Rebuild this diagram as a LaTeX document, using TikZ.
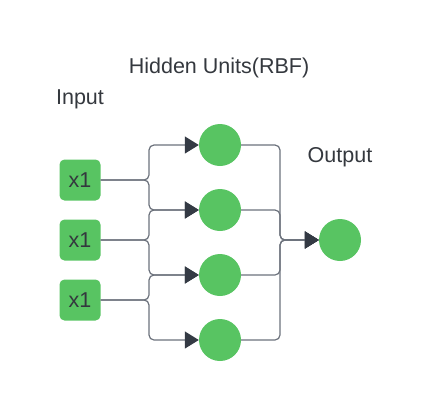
\documentclass[tikz,border=0pt]{standalone}
\usepackage{fontspec}
\setmainfont{Liberation Sans}
\usepackage{tikz}
\usepackage{xcolor}
\usetikzlibrary{arrows.meta}
\definecolor{unitgreen}{RGB}{88,196,98}
\definecolor{wire}{RGB}{108,114,124}
\definecolor{tip}{RGB}{52,58,68}
\definecolor{ink}{RGB}{52,56,62}

\begin{document}
\begin{tikzpicture}[x=1pt,y=-1pt,
    every node/.style={font=\fontsize{21.5}{25}\selectfont,text=ink},
    inbox/.style={fill=unitgreen,rounded corners=5pt,minimum width=41pt,minimum height=41pt,inner sep=0pt},
    unit/.style={circle,fill=unitgreen,minimum size=42pt,inner sep=0pt},
    wire/.style={draw=wire,line width=1.2pt,rounded corners=5pt},
    arrow/.style={wire,-{Triangle[length=14pt,width=17pt,color=tip]}}]
                % Canvas
                \useasboundingbox (0,0) rectangle (430,400);

                % Titles
                \node (title) at (219,68) {Hidden Units(RBF)};
                \node (inlabel) at (80,99) {Input};
                \node (outlabel) at (340,157) {Output};

                % Inputs
                \node[inbox] (in1) at (80,180) {x1};
                \node[inbox] (in2) at (80,240) {x1};
                \node[inbox] (in3) at (80,300) {x1};

                % Hidden units
                \node[unit] (h1) at (220,145) {};
                \node[unit] (h2) at (220,210) {};
                \node[unit] (h3) at (220,275) {};
                \node[unit] (h4) at (220,340) {};

                % Output unit
                \node[unit] (out) at (340,240) {};

                % Junctions
                \coordinate (j1) at (149,180);
                \coordinate (j2) at (149,240);
                \coordinate (j3) at (149,300);
                \coordinate (k) at (280,240);

                % Input to hidden
                \draw[arrow] (in1.east) -- (j1) |- (h1.west);
                \draw[arrow] (in1.east) -- (j1) |- (h2.west);
                \draw[arrow] (in2.east) -- (j2) |- (h2.west);
                \draw[arrow] (in2.east) -- (j2) |- (h3.west);
                \draw[arrow] (in3.east) -- (j3) |- (h3.west);
                \draw[arrow] (in3.east) -- (j3) |- (h4.west);

                % Hidden to output
                \draw[arrow] (h1.east) -| (k) -- (out.west);
                \draw[arrow] (h2.east) -| (k) -- (out.west);
                \draw[arrow] (h3.east) -| (k) -- (out.west);
                \draw[arrow] (h4.east) -| (k) -- (out.west);
            \end{tikzpicture}
\end{document}
